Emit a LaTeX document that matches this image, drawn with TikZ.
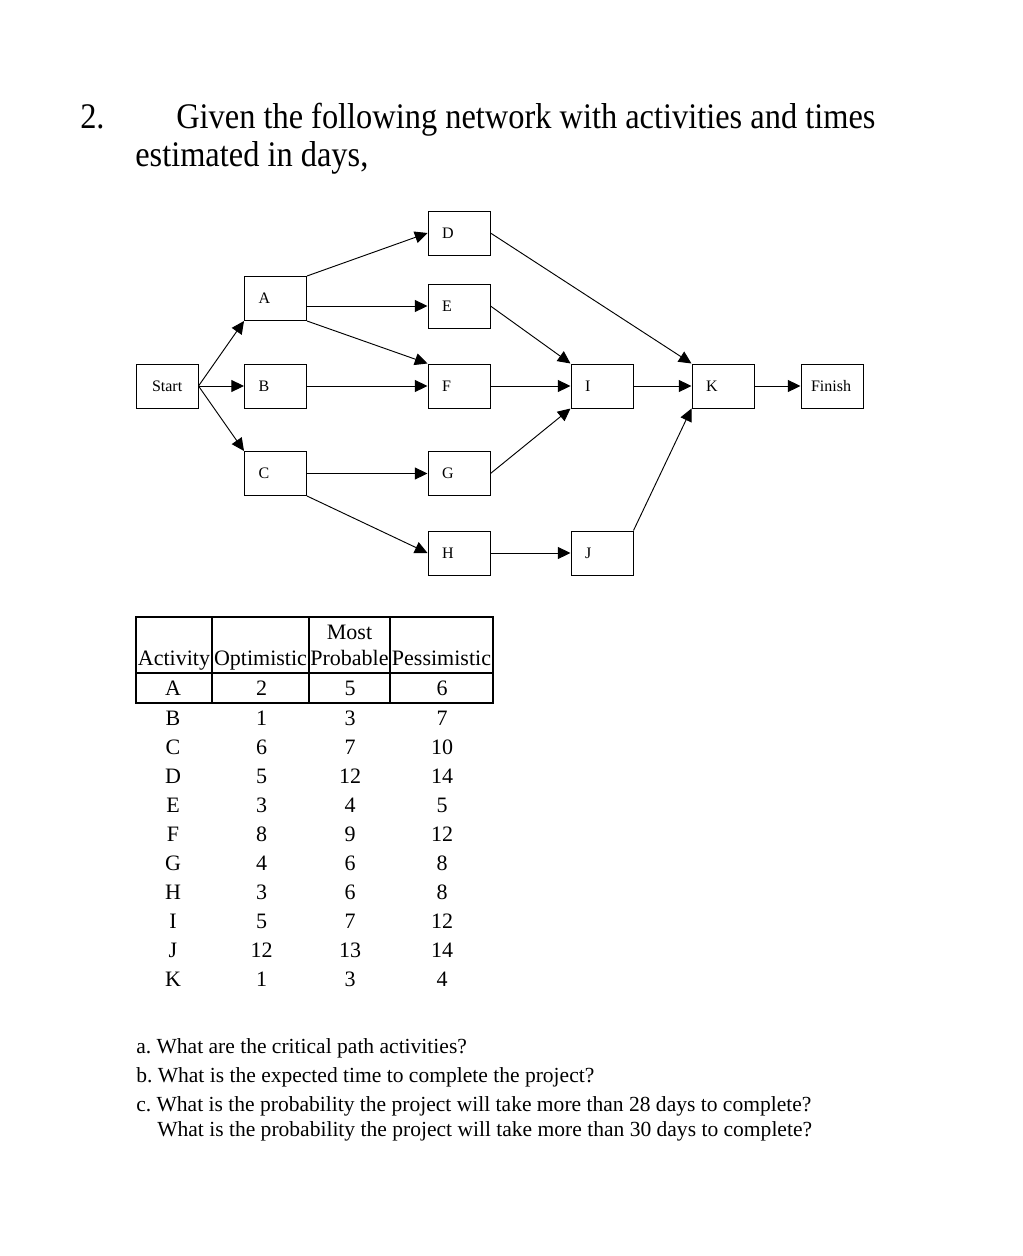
\documentclass[tikz,border=0pt]{standalone}
\usepackage{fontspec}
\setmainfont{Liberation Serif}
\newfontfamily\titlefont[FakeStretch=0.9]{Liberation Serif}
\usetikzlibrary{arrows.meta}
\begin{document}
\frenchspacing
\begin{tikzpicture}[x=0.75pt,y=-0.75pt,
  box/.style={draw, line width=0.75pt, minimum height=33pt, inner ysep=0pt,
    inner xsep=10.5pt, text width=25.5pt, align=left,
    font=\fontsize{12}{14}\selectfont},
  conn/.style={line width=0.7pt, -{Triangle[length=9.5pt,width=9pt]}},
  title/.style={anchor=base west, inner sep=0pt, font=\titlefont\fontsize{27}{32}\selectfont},
  cell/.style={anchor=base, inner sep=0pt, font=\fontsize{16.5}{19}\selectfont},
  qtext/.style={anchor=base west, inner sep=0pt, font=\fontsize{16.15}{19}\selectfont},
  grid/.style={line width=1.5pt}]
\useasboundingbox (0,0) rectangle (1022,1256);

% title
\node[title] (num) at (80,128) {2.};
\node[title] (t1) at (176,128) {Given the following network with activities and times};
\node[title] (t2) at (135,166) {estimated in days,};

% network
\node[box, inner xsep=12pt, text width=22.5pt] (start) at (167,386) {Start};
\node[box] (A) at (275.5,298.5) {A};
\node[box] (B) at (275.5,386) {B};
\node[box] (C) at (275.5,473.5) {C};
\node[box] (D) at (459,233) {D};
\node[box] (E) at (459,306) {E};
\node[box] (F) at (459,386) {F};
\node[box] (G) at (459,473.5) {G};
\node[box] (H) at (459,553) {H};
\node[box] (I) at (602,386) {I};
\node[box] (J) at (602,553) {J};
\node[box] (K) at (723,386) {K};
\node[box, inner xsep=7.5pt, text width=31.5pt] (fin) at (832,386) {Finish};

\draw[conn] (start.east) -- (A.south west);
\draw[conn] (start.east) -- (B.west);
\draw[conn] (start.east) -- (C.north west);
\draw[conn] (A.north east) -- (D.west);
\draw[conn] (A.east |- E.west) -- (E.west);
\draw[conn] (A.south east) -- (F.north west);
\draw[conn] (B.east) -- (F.west);
\draw[conn] (C.east) -- (G.west);
\draw[conn] (C.south east) -- (H.west);
\draw[conn] (D.east) -- (K.north west);
\draw[conn] (E.east) -- (I.north west);
\draw[conn] (F.east) -- (I.west);
\draw[conn] (G.east) -- (I.south west);
\draw[conn] (H.east) -- (J.west);
\draw[conn] (I.east) -- (K.west);
\draw[conn] (J.north east) -- (K.south west);
\draw[conn] (K.east) -- (fin.west);

% table
\draw[grid] (136,617) rectangle (493,703);
\draw[grid] (136,673) -- (493,673);
\foreach \xx in {212,309,390} \draw[grid] (\xx,617) -- (\xx,703);
\node[cell] (hmost) at (349.5,639) {Most};
\node[cell] (hact) at (174,665) {Activity};
\node[cell] (hopt) at (260.5,665) {Optimistic};
\node[cell] (hprob) at (349.5,665) {Probable};
\node[cell] (hpess) at (441.5,665) {Pessimistic};
\foreach \a/\o/\m/\p/\yy in {A/2/5/6/695, B/1/3/7/725, C/6/7/10/754, D/5/12/14/783,
  E/3/4/5/812, F/8/9/12/841, G/4/6/8/870, H/3/6/8/899, I/5/7/12/928,
  J/12/13/14/957, K/1/3/4/986} {
  \node[cell] (r\a-a) at (173,\yy) {\a};
  \node[cell] (r\a-o) at (261.5,\yy) {\o};
  \node[cell] (r\a-m) at (350,\yy) {\m};
  \node[cell] (r\a-p) at (442,\yy) {\p};
}

% questions
\node[qtext] (qa) at (136,1053) {a. What are the critical path activities?};
\node[qtext] (qb) at (136,1082) {b. What is the expected time to complete the project?};
\node[qtext] (qc) at (136,1111) {c. What is the probability the project will take more than 28 days to complete?};
\node[qtext] (qd) at (157,1136) {What is the probability the project will take more than 30 days to complete?};
\end{tikzpicture}
\end{document}
